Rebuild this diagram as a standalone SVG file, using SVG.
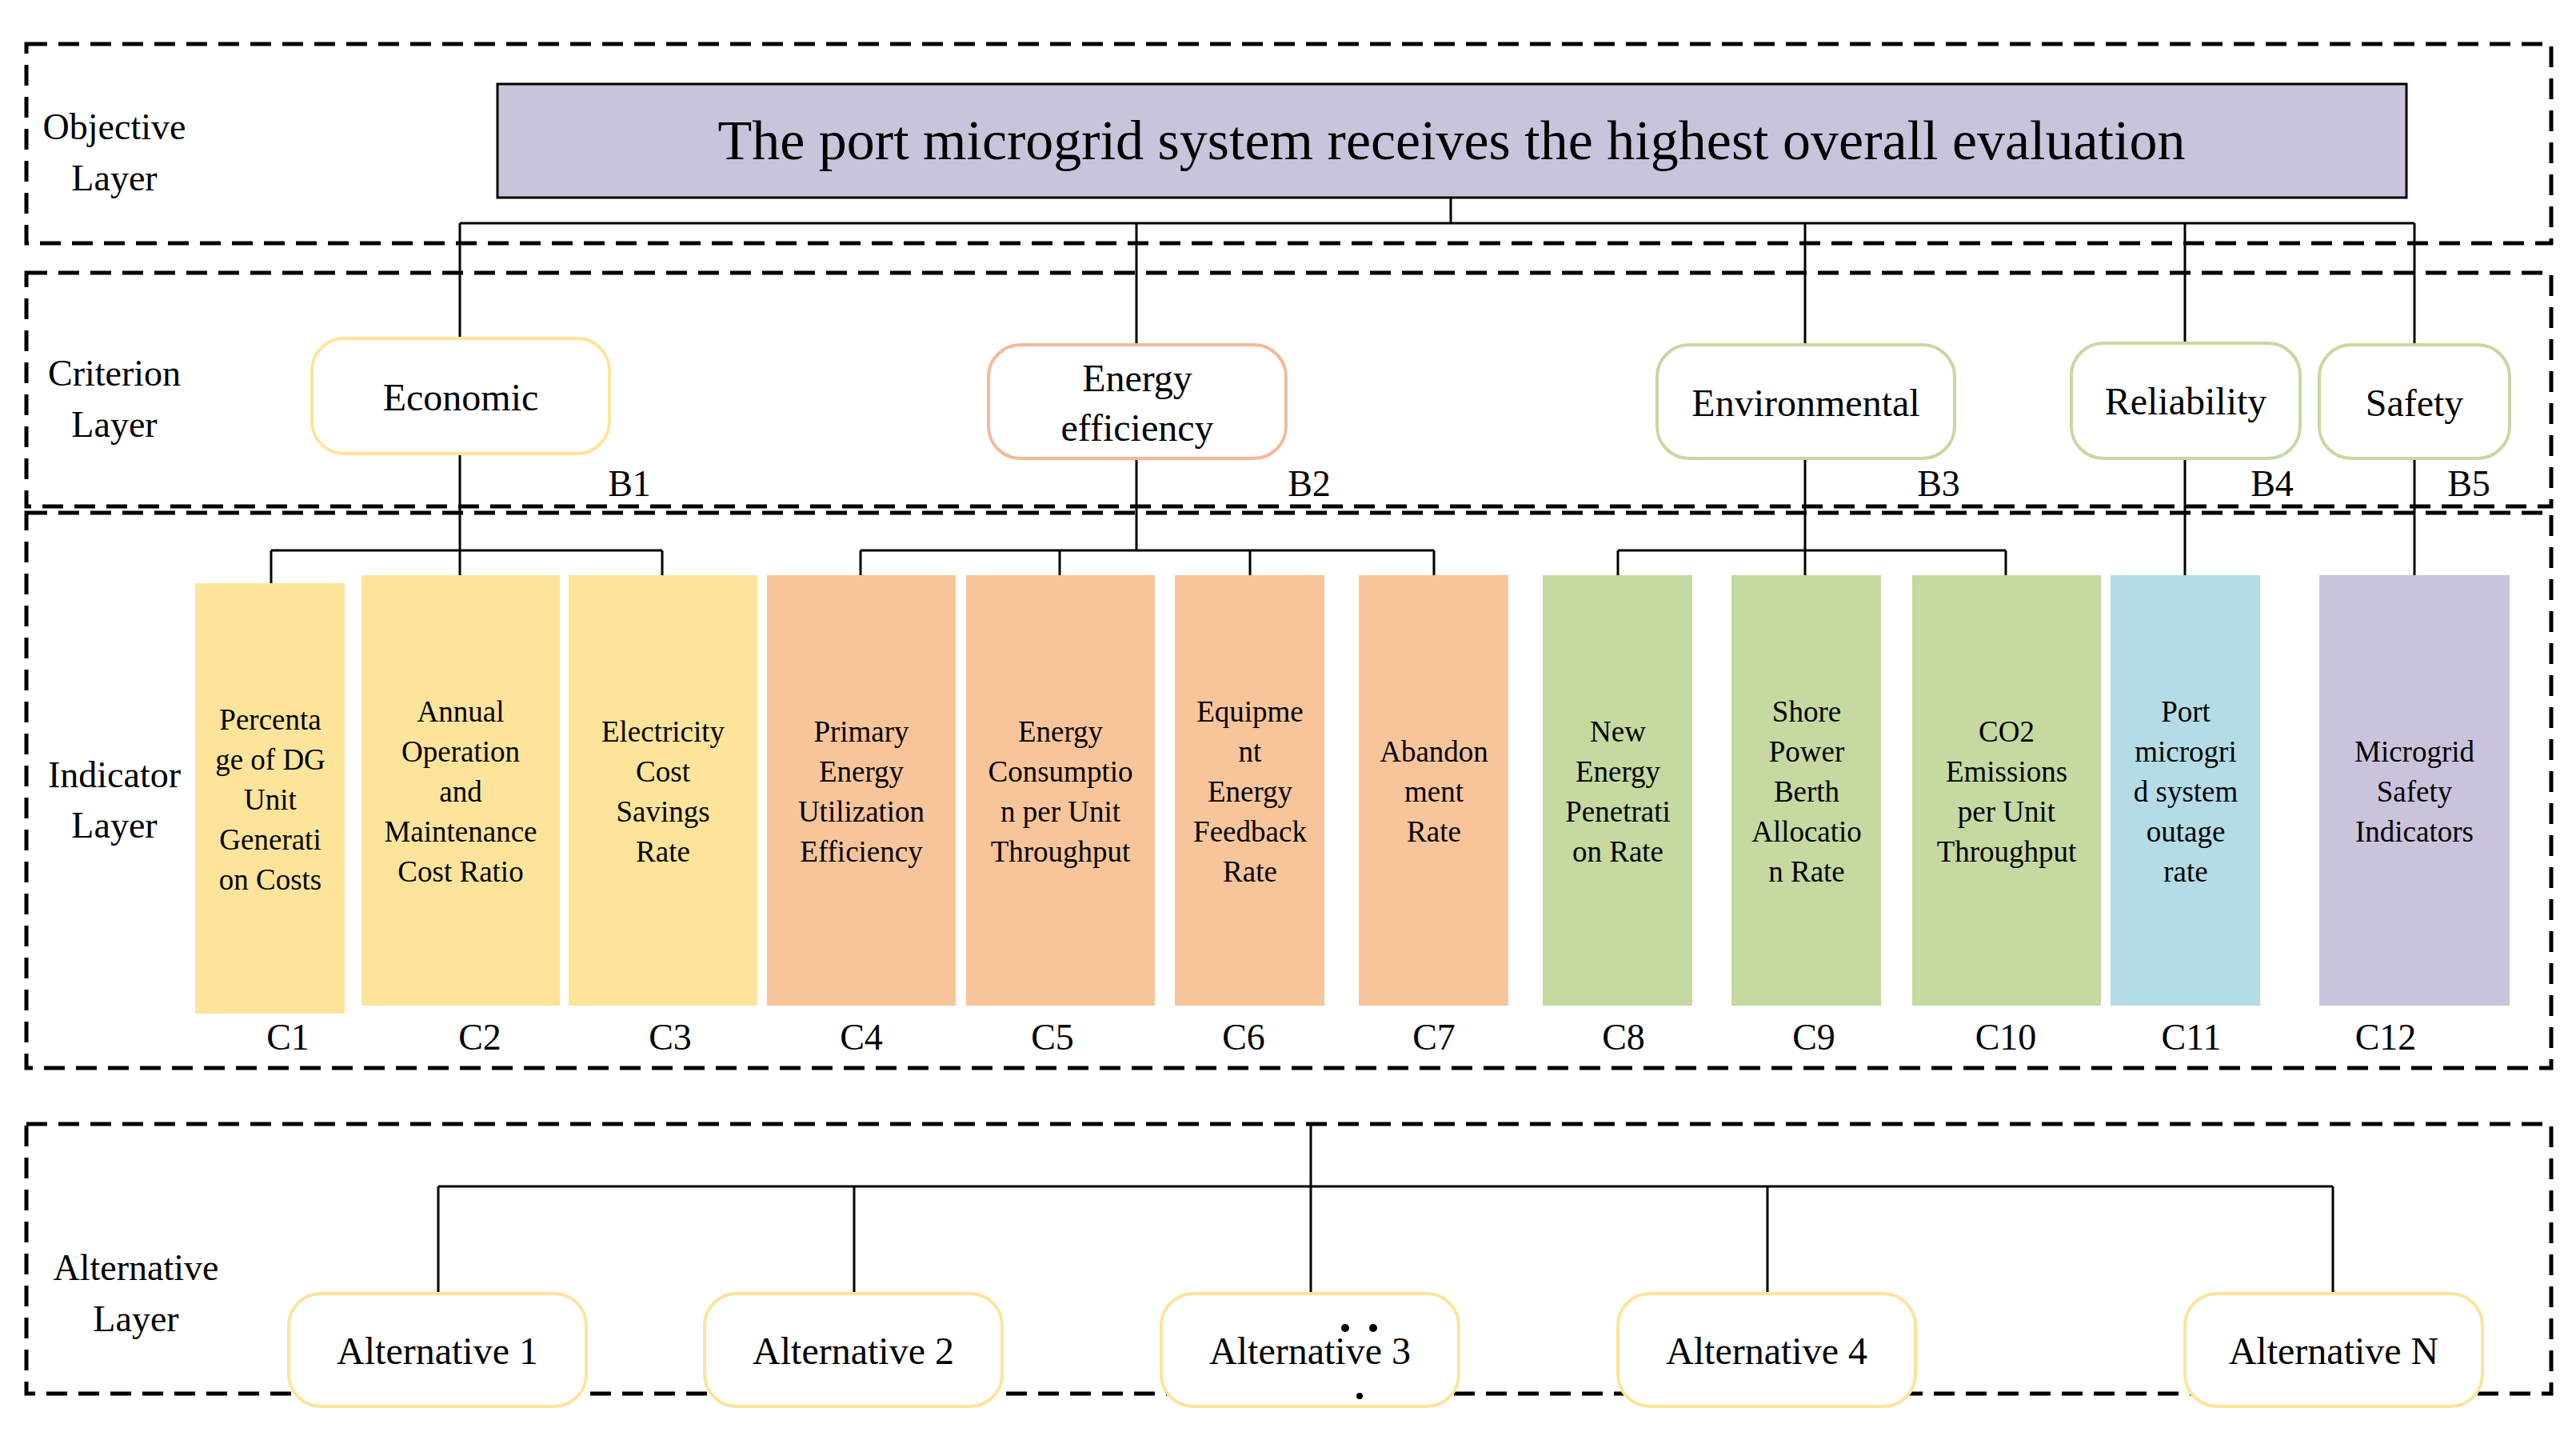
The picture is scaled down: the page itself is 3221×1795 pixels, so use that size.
<svg xmlns="http://www.w3.org/2000/svg" width="3221" height="1795" viewBox="0 0 3221 1795">
<style>
text{font-family:"Liberation Serif","Times New Roman",serif;fill:#000;text-anchor:middle}
.layer{fill:none;stroke:#000;stroke-width:5;stroke-dasharray:26 14}
.ll{font-size:46px}
.cr{fill:#fff;stroke-width:4}
.crt{font-size:48px}
.bl{font-size:46px}
.ind{font-size:37px}
.cl{font-size:46px}
.con{fill:none;stroke:#000;stroke-width:3}
</style>
<rect width="3221" height="1795" fill="#fff"/>
<g id="layers">
<rect class="layer" x="33" y="55" width="3157" height="249"/>
<rect class="layer" x="33" y="341" width="3157" height="292"/>
<rect class="layer" x="33" y="641" width="3157" height="694"/>
<rect class="layer" x="33" y="1405" width="3157" height="337"/>
<text class="ll" x="143" y="174">Objective</text><text class="ll" x="143" y="238">Layer</text>
<text class="ll" x="143" y="482">Criterion</text><text class="ll" x="143" y="546">Layer</text>
<text class="ll" x="143" y="984">Indicator</text><text class="ll" x="143" y="1047">Layer</text>
<text class="ll" x="170" y="1600">Alternative</text><text class="ll" x="170" y="1664">Layer</text>
</g>
<g id="connectors" class="con">
<path d="M1814 247V279M575 279H3019M575 279V423M1421 279V431M2257 279V431M2732 279V431M3019 279V431"/>
<path d="M575 567V719M339 688H828M339 688V729M828 688V719"/>
<path d="M1421 573V688M1076 688H1793M1076 688V719M1325 688V719M1563 688V719M1793 688V719"/>
<path d="M2257 573V719M2023 688H2508M2023 688V719M2508 688V719"/>
<path d="M2732 573V719M3019 573V719"/>
<path d="M1639 1405V1617M548 1483H2917M548 1483V1617M1068 1483V1617M2210 1483V1617M2917 1483V1617"/>
</g>
<g id="objective">
<rect x="622" y="105" width="2387" height="142" fill="#CBC3DB" stroke="#000" stroke-width="3"/>
<text x="1815" y="199" font-size="70">The port microgrid system receives the highest overall evaluation</text>
</g>
<g id="B1"><rect class="cr" x="390" y="423" width="372" height="144" rx="40" stroke="#FDE49A"/><text class="crt" x="576" y="513">Economic</text><text class="bl" x="787" y="620">B1</text></g>
<g id="B2"><rect class="cr" x="1236" y="431" width="372" height="142" rx="40" stroke="#F5B99A"/><text class="crt" x="1422" y="489">Energy</text><text class="crt" x="1422" y="551">efficiency</text><text class="bl" x="1637" y="620">B2</text></g>
<g id="B3"><rect class="cr" x="2072" y="431" width="372" height="142" rx="40" stroke="#C5D9A0"/><text class="crt" x="2258" y="520">Environmental</text><text class="bl" x="2424" y="620">B3</text></g>
<g id="B4"><rect class="cr" x="2590" y="429" width="286" height="144" rx="40" stroke="#C5D9A0"/><text class="crt" x="2733" y="518">Reliability</text><text class="bl" x="2841" y="620">B4</text></g>
<g id="B5"><rect class="cr" x="2900" y="431" width="238" height="142" rx="40" stroke="#C5D9A0"/><text class="crt" x="3019" y="520">Safety</text><text class="bl" x="3087" y="620">B5</text></g>
<g id="C1"><rect x="244" y="729" width="187" height="538" fill="#FDE49A"/><text class="ind" x="338"><tspan x="338" y="912">Percenta</tspan><tspan x="338" y="962">ge of DG</tspan><tspan x="338" y="1012">Unit</tspan><tspan x="338" y="1062">Generati</tspan><tspan x="338" y="1112">on Costs</tspan></text><text class="cl" x="360" y="1312">C1</text></g>
<g id="C2"><rect x="452" y="719" width="248" height="538" fill="#FDE49A"/><text class="ind"><tspan x="576" y="902">Annual</tspan><tspan x="576" y="952">Operation</tspan><tspan x="576" y="1002">and</tspan><tspan x="576" y="1052">Maintenance</tspan><tspan x="576" y="1102">Cost Ratio</tspan></text><text class="cl" x="600" y="1312">C2</text></g>
<g id="C3"><rect x="711" y="719" width="236" height="538" fill="#FDE49A"/><text class="ind"><tspan x="829" y="927">Electricity</tspan><tspan x="829" y="977">Cost</tspan><tspan x="829" y="1027">Savings</tspan><tspan x="829" y="1077">Rate</tspan></text><text class="cl" x="838" y="1312">C3</text></g>
<g id="C4"><rect x="959" y="719" width="236" height="538" fill="#F8C59A"/><text class="ind"><tspan x="1077" y="927">Primary</tspan><tspan x="1077" y="977">Energy</tspan><tspan x="1077" y="1027">Utilization</tspan><tspan x="1077" y="1077">Efficiency</tspan></text><text class="cl" x="1077" y="1312">C4</text></g>
<g id="C5"><rect x="1208" y="719" width="236" height="538" fill="#F8C59A"/><text class="ind"><tspan x="1326" y="927">Energy</tspan><tspan x="1326" y="977">Consumptio</tspan><tspan x="1326" y="1027">n per Unit</tspan><tspan x="1326" y="1077">Throughput</tspan></text><text class="cl" x="1316" y="1312">C5</text></g>
<g id="C6"><rect x="1469" y="719" width="187" height="538" fill="#F8C59A"/><text class="ind"><tspan x="1563" y="902">Equipme</tspan><tspan x="1563" y="952">nt</tspan><tspan x="1563" y="1002">Energy</tspan><tspan x="1563" y="1052">Feedback</tspan><tspan x="1563" y="1102">Rate</tspan></text><text class="cl" x="1555" y="1312">C6</text></g>
<g id="C7"><rect x="1699" y="719" width="187" height="538" fill="#F8C59A"/><text class="ind"><tspan x="1793" y="952">Abandon</tspan><tspan x="1793" y="1002">ment</tspan><tspan x="1793" y="1052">Rate</tspan></text><text class="cl" x="1793" y="1312">C7</text></g>
<g id="C8"><rect x="1929" y="719" width="187" height="538" fill="#C5D9A0"/><text class="ind"><tspan x="2023" y="927">New</tspan><tspan x="2023" y="977">Energy</tspan><tspan x="2023" y="1027">Penetrati</tspan><tspan x="2023" y="1077">on Rate</tspan></text><text class="cl" x="2030" y="1312">C8</text></g>
<g id="C9"><rect x="2165" y="719" width="187" height="538" fill="#C5D9A0"/><text class="ind"><tspan x="2259" y="902">Shore</tspan><tspan x="2259" y="952">Power</tspan><tspan x="2259" y="1002">Berth</tspan><tspan x="2259" y="1052">Allocatio</tspan><tspan x="2259" y="1102">n Rate</tspan></text><text class="cl" x="2268" y="1312">C9</text></g>
<g id="C10"><rect x="2391" y="719" width="236" height="538" fill="#C5D9A0"/><text class="ind"><tspan x="2509" y="927">CO2</tspan><tspan x="2509" y="977">Emissions</tspan><tspan x="2509" y="1027">per Unit</tspan><tspan x="2509" y="1077">Throughput</tspan></text><text class="cl" x="2508" y="1312">C10</text></g>
<g id="C11"><rect x="2639" y="719" width="187" height="538" fill="#B3DCE6"/><text class="ind"><tspan x="2733" y="902">Port</tspan><tspan x="2733" y="952">microgri</tspan><tspan x="2733" y="1002">d system</tspan><tspan x="2733" y="1052">outage</tspan><tspan x="2733" y="1102">rate</tspan></text><text class="cl" x="2740" y="1312">C11</text></g>
<g id="C12"><rect x="2900" y="719" width="238" height="538" fill="#CBC3DB"/><text class="ind"><tspan x="3019" y="952">Microgrid</tspan><tspan x="3019" y="1002">Safety</tspan><tspan x="3019" y="1052">Indicators</tspan></text><text class="cl" x="2983" y="1312">C12</text></g>
<g id="A1"><rect class="cr" x="361" y="1617" width="372" height="141" rx="40" stroke="#FDE49A"/><text class="crt" x="547" y="1705">Alternative 1</text></g>
<g id="A2"><rect class="cr" x="881" y="1617" width="372" height="141" rx="40" stroke="#FDE49A"/><text class="crt" x="1067" y="1705">Alternative 2</text></g>
<g id="A3"><rect class="cr" x="1452" y="1617" width="372" height="141" rx="40" stroke="#FDE49A"/><text class="crt" x="1638" y="1705">Alternative 3</text><circle cx="1682" cy="1660" r="5"/><circle cx="1717" cy="1660" r="5"/><circle cx="1700" cy="1745" r="4"/></g>
<g id="A4"><rect class="cr" x="2023" y="1617" width="372" height="141" rx="40" stroke="#FDE49A"/><text class="crt" x="2209" y="1705">Alternative 4</text></g>
<g id="AN"><rect class="cr" x="2732" y="1617" width="372" height="141" rx="40" stroke="#FDE49A"/><text class="crt" x="2918" y="1705">Alternative N</text></g>
</svg>
